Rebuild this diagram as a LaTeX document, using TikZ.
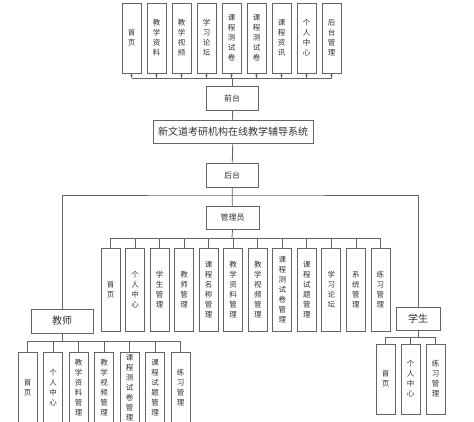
\documentclass[tikz,border=0pt]{standalone}
\usepackage{fontspec}
\setmainfont{Noto Sans CJK SC}
\usetikzlibrary{arrows.meta,positioning}
\definecolor{boxgray}{RGB}{100,100,100}
\definecolor{txtgray}{RGB}{50,50,50}

\begin{document}
\begin{tikzpicture}[x=1pt, y=-1pt,
    func/.style={rectangle, draw=boxgray, line width=0.9pt, fill=white, minimum width=19, inner sep=0, align=center, font=\fontsize{7.5}{10}\selectfont, text=txtgray},
    hbox/.style={rectangle, draw=boxgray, line width=0.9pt, fill=white, minimum width=52, minimum height=24, inner sep=0, font=\fontsize{8}{9}\selectfont, text=txtgray},
    link/.style={draw=boxgray, line width=0.8pt},
    up/.style={link, -{Stealth[length=2.5pt, width=2.5pt]}}
]
\clip (0,0) rectangle (474,422);

% Main chain in the middle
\node[hbox] (front) at (232, 98) {前台};
\node[hbox, minimum width=160, minimum height=23, font=\fontsize{10}{11}\selectfont] (sys) at (233, 131.5) {新文道考研机构在线教学辅导系统};
\node[hbox] (back) at (232, 175) {后台};
\node[hbox, minimum width=53, minimum height=23] (admin) at (232.5, 217.5) {管理员};
\node[hbox, minimum width=62, font=\fontsize{10}{11}\selectfont] (teacher) at (62, 321) {教师};
\node[hbox, minimum width=44, minimum height=23, font=\fontsize{10}{11}\selectfont] (student) at (418, 318.5) {学生};

% Bus lines
\coordinate (fbus) at (232, 78);
\coordinate (split) at (232, 195);
\coordinate (abus) at (232, 238);
\coordinate (tbus) at (62, 341);
\coordinate (sbus) at (418, 337);

% Front-end functions
\foreach \lbl [count=\i] in {首\\页, 教\\学\\资\\料, 教\\学\\视\\频, 学\\习\\论\\坛, 课\\程\\测\\试\\卷, 课\\程\\测\\试\\卷, 课\\程\\资\\讯, 个\\人\\中\\心, 后\\台\\管\\理} {
    \node[func, minimum height=70] (fn\i) at ({131.5+25*(\i-1)}, 38) {\lbl};
    \draw[up] (fn\i |- fbus) -- (fn\i.south);
}
\draw[link] (fn1 |- fbus) -- (fn9 |- fbus);
\draw[link] (front.north) -- (fbus);

% Admin functions
\foreach \lbl [count=\i] in {首\\页, 个\\人\\中\\心, 学\\生\\管\\理, 教\\师\\管\\理, 课\\程\\名\\称\\管\\理, 教\\学\\资\\料\\管\\理, 教\\学\\视\\频\\管\\理, 课\\程\\测\\试\\卷\\管\\理, 课\\程\\试\\题\\管\\理, 学\\习\\论\\坛, 系\\统\\管\\理, 练\\习\\管\\理} {
    \node[func, minimum height=83] (ad\i) at ({110.5+24.545*(\i-1)}, 289.5) {\lbl};
    \draw[link] (ad\i |- abus) -- (ad\i.north);
}
\draw[link] (ad1 |- abus) -- (ad12 |- abus);
\draw[link] (admin.south) -- (abus);

% Teacher functions
\foreach \lbl [count=\i] in {首\\页, 个\\人\\中\\心, 教\\学\\资\\料\\管\\理, 教\\学\\视\\频\\管\\理, 课\\程\\测\\试\\卷\\管\\理, 课\\程\\试\\题\\管\\理, 练\\习\\管\\理} {
    \node[func, minimum height=72] (te\i) at ({27.5+25.5*(\i-1)}, 388) {\lbl};
    \draw[link] (te\i |- tbus) -- (te\i.north);
}
\draw[link] (te1 |- tbus) -- (te7 |- tbus);
\draw[link] (teacher.south) -- (tbus);

% Student functions
\foreach \lbl [count=\i] in {首\\页, 个\\人\\中\\心, 练\\习\\管\\理} {
    \node[func, minimum height=70] (st\i) at ({385.5+25*(\i-1)}, 379) {\lbl};
    \draw[link] (st\i |- sbus) -- (st\i.north);
}
\draw[link] (st1 |- sbus) -- (st3 |- sbus);
\draw[link] (student.south) -- (sbus);

% Links between levels
\draw[link] (front) -- (sys);
\draw[link] (sys) -- (back);
\draw[link] (back) -- (admin);
\draw[link] (teacher.north) |- (split) -| (student.north);

\end{tikzpicture}
\end{document}
